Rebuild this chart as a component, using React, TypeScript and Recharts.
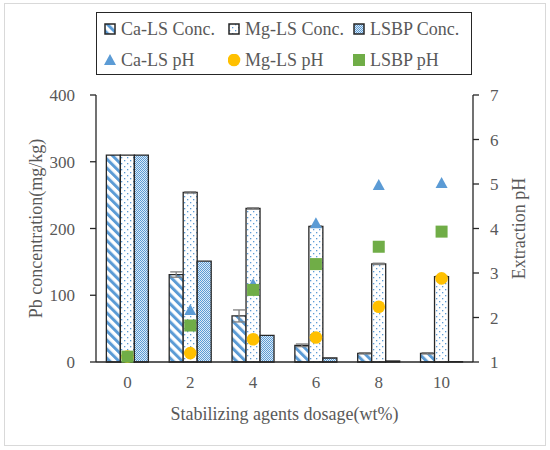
import { ComposedChart, Bar, Scatter, XAxis, YAxis, ErrorBar } from "recharts";

const doses = ["0", "2", "4", "6", "8", "10"];
const caConc = [310, 131, 69, 25, 13, 13];
const mgConc = [310, 254, 230, 203, 147, 128];
const lsbpConc = [310, 151, 40, 6, 1.5, 0.5];
const caErr = [0, 4, 9, 2, 1, 1];
const mgErr = [0, 1, 1, 1, 1, 1];
const caPH = [1.12, 2.17, 2.75, 4.12, 4.98, 5.02];
const mgPH = [1.12, 1.2, 1.51, 1.55, 2.24, 2.88];
const lsbpPH = [1.12, 1.82, 2.62, 3.2, 3.59, 3.93];

const leftTicks = [0, 100, 200, 300, 400];
const rightTicks = [1, 2, 3, 4, 5, 6, 7];

const BLUE = "#5B9BD5";
const ORANGE = "#FFC000";
const GREEN = "#70AD47";
const INK = "#262626";
const GRAY = "#595959";
const FONT = "'Liberation Serif', serif";

const data = doses.map((dose, i) => ({
  dose,
  caConc: caConc[i],
  mgConc: mgConc[i],
  lsbpConc: lsbpConc[i],
  caErr: caErr[i],
  mgErr: mgErr[i],
  caPH: caPH[i],
  mgPH: mgPH[i],
  lsbpPH: lsbpPH[i],
}));

const Triangle = (p: any) => (
  <path d={`M${p.cx},${p.cy - 6} L${p.cx + 6},${p.cy + 5} L${p.cx - 6},${p.cy + 5} Z`} fill={BLUE} />
);
const Dot = (p: any) => <circle cx={p.cx} cy={p.cy} r={6.3} fill={ORANGE} />;
const Square = (p: any) => <rect x={p.cx - 6} y={p.cy - 6} width={12} height={12} fill={GREEN} />;

function Patterns() {
  return (
    <svg width={0} height={0} style={{ position: "absolute" }}>
      <defs>
        <pattern id="caPat" patternUnits="userSpaceOnUse" width={6.4} height={6.4} patternTransform="rotate(-45)">
          <rect width={6.4} height={6.4} fill="#fff" />
          <rect width={3} height={6.4} fill={BLUE} />
        </pattern>
        <pattern id="mgPat" patternUnits="userSpaceOnUse" width={6} height={6}>
          <rect width={6} height={6} fill="#fff" />
          <rect x={1} y={1} width={1.3} height={1.3} fill={BLUE} />
          <rect x={4} y={4} width={1.3} height={1.3} fill={BLUE} />
        </pattern>
        <pattern id="lsbpPat" patternUnits="userSpaceOnUse" width={2} height={2}>
          <rect width={2} height={2} fill="#DDEBF7" />
          <rect width={1} height={1} fill={BLUE} />
          <rect x={1} y={1} width={1} height={1} fill={BLUE} />
        </pattern>
      </defs>
    </svg>
  );
}

const legendRows = [
  [
    { name: "Ca-LS Conc.", icon: <rect x={1} y={1} width={10} height={10} fill="url(#caPat)" stroke={INK} strokeWidth={1.5} /> },
    { name: "Mg-LS Conc.", icon: <rect x={1} y={1} width={10} height={10} fill="url(#mgPat)" stroke={INK} strokeWidth={1.5} /> },
    { name: "LSBP Conc.", icon: <rect x={1} y={1} width={10} height={10} fill="url(#lsbpPat)" stroke={INK} strokeWidth={1.5} /> },
  ],
  [
    { name: "Ca-LS pH", icon: <Triangle cx={6} cy={6} /> },
    { name: "Mg-LS pH", icon: <Dot cx={6} cy={6} /> },
    { name: "LSBP pH", icon: <Square cx={6} cy={6} /> },
  ],
];
const colLeft = [7, 131, 256];

function ChartLegend() {
  return (
    <div
      style={{
        position: "absolute",
        left: 96,
        top: 12,
        width: 374,
        height: 61,
        border: `1.5px solid ${INK}`,
        fontFamily: FONT,
        fontSize: 18,
        color: GRAY,
      }}
    >
      {legendRows.map((row, r) =>
        row.map((item, c) => (
          <div
            key={item.name}
            style={{
              position: "absolute",
              left: colLeft[c],
              top: r === 0 ? 6 : 37,
              display: "flex",
              alignItems: "center",
              whiteSpace: "nowrap",
            }}
          >
            <svg width={13} height={13} style={{ marginRight: 4 }}>
              {item.icon}
            </svg>
            {item.name}
          </div>
        )),
      )}
    </div>
  );
}

export default function App() {
  const tick = { fill: GRAY, fontSize: 17, fontFamily: FONT };
  return (
    <div style={{ position: "absolute", left: 0, top: 0, width: 550, height: 450, background: "#fff" }}>
      <Patterns />
      <div
        style={{
          position: "absolute",
          left: 4,
          top: 3,
          width: 540,
          height: 441,
          border: "1px solid #D9D9D9",
        }}
      />
      <ComposedChart
        width={550}
        height={450}
        data={data}
        margin={{ top: 95, right: 0, bottom: 0, left: 0 }}
        barCategoryGap="16.5%"
        barGap={0}
      >
        <XAxis
          dataKey="dose"
          xAxisId={0}
          height={88}
          tickLine={false}
          tickSize={0}
          tickMargin={14}
          tick={tick}
          axisLine={{ stroke: INK, strokeWidth: 1.3 }}
          label={{
            value: "Stabilizing agents dosage(wt%)",
            position: "insideBottom",
            offset: 30,
            fill: GRAY,
            fontSize: 18,
            fontFamily: FONT,
          }}
        />
        <YAxis
          yAxisId="left"
          orientation="left"
          width={96}
          domain={[0, 400]}
          ticks={leftTicks}
          interval={0}
          tickSize={6}
          tickMargin={15}
          tick={tick}
          tickLine={{ stroke: INK, strokeWidth: 1.3 }}
          axisLine={{ stroke: INK, strokeWidth: 1.3 }}
          label={{
            value: "Pb concentration(mg/kg)",
            angle: -90,
            position: "center",
            dx: -12,
            fill: GRAY,
            fontSize: 18,
            fontFamily: FONT,
          }}
        />
        <YAxis
          yAxisId="right"
          orientation="right"
          width={77}
          domain={[1, 7]}
          ticks={rightTicks}
          interval={0}
          tickSize={6}
          tickMargin={11}
          tick={tick}
          tickLine={{ stroke: INK, strokeWidth: 1.3 }}
          axisLine={{ stroke: INK, strokeWidth: 1.3 }}
          label={{
            value: "Extraction pH",
            angle: -90,
            position: "center",
            dx: 7,
            fill: GRAY,
            fontSize: 18,
            fontFamily: FONT,
          }}
        />
        <Bar yAxisId="left" dataKey="caConc" fill="url(#caPat)" stroke={INK} strokeWidth={1.3} isAnimationActive={false}>
          <ErrorBar dataKey="caErr" width={6} stroke="#7F7F7F" strokeWidth={1.3} direction="y" />
        </Bar>
        <Bar yAxisId="left" dataKey="mgConc" fill="url(#mgPat)" stroke={INK} strokeWidth={1.3} isAnimationActive={false}>
          <ErrorBar dataKey="mgErr" width={6} stroke="#7F7F7F" strokeWidth={1.3} direction="y" />
        </Bar>
        <Bar yAxisId="left" dataKey="lsbpConc" fill="url(#lsbpPat)" stroke={INK} strokeWidth={1.3} isAnimationActive={false} />
        <Scatter yAxisId="right" dataKey="caPH" shape={Triangle} isAnimationActive={false} />
        <Scatter yAxisId="right" dataKey="mgPH" shape={Dot} isAnimationActive={false} />
        <Scatter yAxisId="right" dataKey="lsbpPH" shape={Square} isAnimationActive={false} />
      </ComposedChart>
      <ChartLegend />
    </div>
  );
}
